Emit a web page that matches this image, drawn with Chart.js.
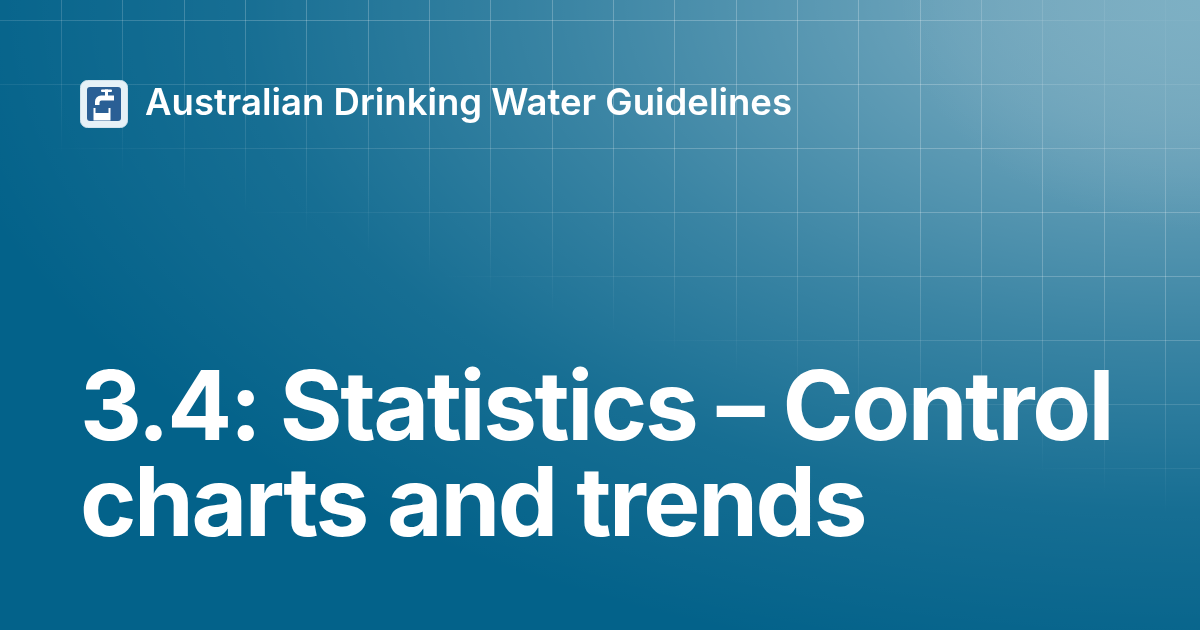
<!DOCTYPE html>
<html>
<head>
<meta charset="utf-8">
<script src="https://cdn.jsdelivr.net/npm/chart.js@4"></script>
<style>
  html, body { margin: 0; padding: 0; background: #03628a; }
  #card { position: relative; width: 1200px; height: 630px; overflow: hidden; font-family: Inter, "Noto Sans", sans-serif; color: #fff; }
  #grid_chart { position: absolute; left: 0; top: 0; }
  .brand { position: absolute; left: 80px; top: 80px; height: 48px; }
  .brand svg { display: block; }
  .brand-name { position: absolute; left: 65px; top: 4px; font-size: 36.5px; font-weight: 600; line-height: 36.5px; white-space: nowrap; letter-spacing: 0; }
  .title { position: absolute; left: 80px; top: 357px; font-size: 96px; font-weight: 700; line-height: 96px; letter-spacing: -2.4px; white-space: nowrap; }
</style>
</head>
<body>
<div id="card">
  <canvas id="grid_chart" width="1200" height="630"></canvas>
  <div class="brand">
    <svg width="48" height="48" viewBox="0 0 48 48">
      <rect x="0.5" y="0.5" width="47" height="47" rx="7" fill="#e6f1f7" stroke="#d3e4ee"/>
      <rect x="7" y="7" width="34" height="34" rx="3" fill="#2a5f95"/>
      <rect x="21" y="9.5" width="11" height="2.6" rx="1" fill="#fff"/>
      <rect x="25" y="9.5" width="3" height="7" fill="#fff"/>
      <path d="M34 15.5 H21 a6 6 0 0 0 -6 6 V25 H19.5 V22.5 a2 2 0 0 1 2 -2 H34 Z" fill="#fff"/>
      <path d="M14.5 28 V39.5 H29.5 V28" fill="none" stroke="#fff" stroke-width="2"/>
      <rect x="15" y="33" width="14" height="7" fill="#fff"/>
    </svg>
    <div class="brand-name" id="brand_name"></div>
  </div>
  <div class="title" id="title"></div>
</div>
<script>
const ctx = document.getElementById('grid_chart').getContext('2d');

// text
const brand_text = 'Australian Drinking Water Guidelines';
const title_lines = ['3.4: Statistics \u2013 Control', 'charts and trends'];

// background grid (one tick per grid line)
const grid_columns = [1, 2, 3, 4, 5, 6, 7, 8, 9, 10, 11, 12, 13, 14, 15, 16, 17, 18, 19];
const grid_rows = [0, 1, 2, 3, 4, 5, 6, 7, 8, 9];
const column_range = [0, 19.56];
const row_range = [-0.3125, 9.53];

document.getElementById('brand_name').textContent = brand_text;
document.getElementById('title').innerHTML = title_lines.join('<br>');

let grid_gradient;
function gridColor(context) {
    if (!grid_gradient) {
        const c = context.chart.ctx;
        grid_gradient = c.createLinearGradient(1200, 0, 1045, 475);
        grid_gradient.addColorStop(0, 'rgba(255,255,255,0.26)');
        grid_gradient.addColorStop(0.6, 'rgba(255,255,255,0.22)');
        grid_gradient.addColorStop(0.85, 'rgba(255,255,255,0.10)');
        grid_gradient.addColorStop(1, 'rgba(255,255,255,0)');
    }
    return grid_gradient;
}

function ellipseGlow(c, cx, cy, rx, ry, stops) {
    c.save();
    c.translate(cx, cy);
    c.scale(rx / ry, 1);
    const g = c.createRadialGradient(0, 0, 0, 0, 0, ry);
    stops.forEach(s => g.addColorStop(s[0], s[1]));
    c.fillStyle = g;
    c.fillRect(-cx * ry / rx, -cy, 1200 * ry / rx, 630);
    c.restore();
}

const backdrop = {
    id: 'backdrop',
    beforeDraw(chart) {
        const c = chart.ctx;
        c.save();
        c.fillStyle = '#03628a';
        c.fillRect(0, 0, chart.width, chart.height);
        ellipseGlow(c, 1200, 0, 1280, 680, [
            [0, 'rgba(255,255,255,0.50)'],
            [0.2, 'rgba(255,255,255,0.41)'],
            [0.5, 'rgba(255,255,255,0.22)'],
            [0.75, 'rgba(255,255,255,0.08)'],
            [1, 'rgba(255,255,255,0)']
        ]);
        c.restore();
    },
    afterDraw(chart) {
        // light corner washes the grid out
        ellipseGlow(chart.ctx, 1200, 0, 300, 230, [
            [0, 'rgba(125,176,196,0.95)'],
            [0.5, 'rgba(122,172,192,0.6)'],
            [1, 'rgba(118,168,190,0)']
        ]);
    }
};

new Chart(ctx, {
    type: 'scatter',
    data: { datasets: [{ data: [] }] },
    options: {
        responsive: false,
        animation: false,
        events: [],
        layout: { padding: 0 },
        plugins: { legend: { display: false }, tooltip: { enabled: false } },
        scales: {
            x: {
                type: 'linear',
                min: column_range[0],
                max: column_range[1],
                afterBuildTicks: axis => { axis.ticks = grid_columns.map(v => ({ value: v })); },
                ticks: { display: false },
                border: { display: false },
                grid: { color: gridColor, lineWidth: 1, drawTicks: false }
            },
            y: {
                type: 'linear',
                reverse: true,
                min: row_range[0],
                max: row_range[1],
                afterBuildTicks: axis => { axis.ticks = grid_rows.map(v => ({ value: v })); },
                ticks: { display: false },
                border: { display: false },
                grid: { color: gridColor, lineWidth: 1, drawTicks: false }
            }
        }
    },
    plugins: [backdrop]
});
</script>
</body>
</html>
